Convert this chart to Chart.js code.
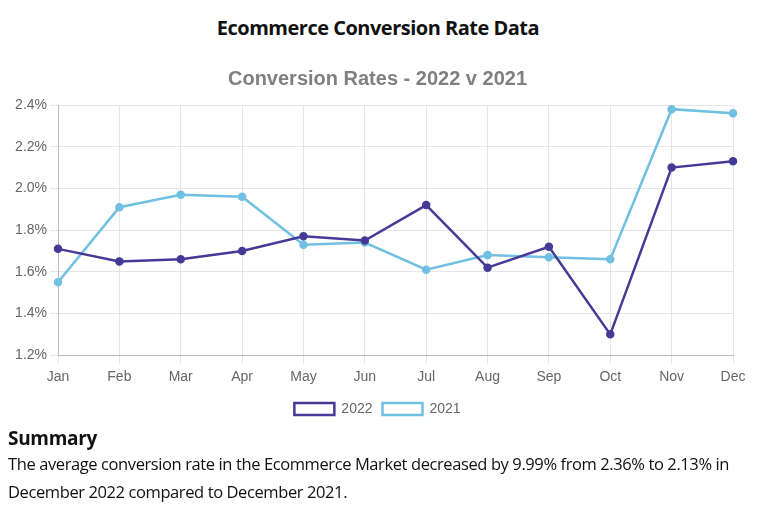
<!DOCTYPE html>
<html>
<head>
<meta charset="utf-8">
<script src="https://cdn.jsdelivr.net/npm/chart.js@4"></script>
<style>
  html, body { margin: 0; padding: 0; background: #fff; }
  body { width: 768px; height: 511px; position: relative; overflow: hidden; font-family: "Open Sans", sans-serif; color: #111; }
  h1 { position: absolute; top: 14px; left: -6px; width: 768px; margin: 0; text-align: center; font-size: 20px; font-weight: 700; letter-spacing: -0.5px; }
  #wrap { position: absolute; left: 0; top: 61px; width: 768px; height: 365px; }
  h2 { position: absolute; top: 425px; left: 8px; margin: 0; font-size: 19px; font-weight: 700; letter-spacing: -0.3px; }
  p { position: absolute; top: 450px; left: 8px; width: 760px; margin: 0; font-size: 16.5px; line-height: 28px; letter-spacing: -0.4px; }
</style>
</head>
<body>
<h1>Ecommerce Conversion Rate Data</h1>
<div id="wrap"><canvas id="chart"></canvas></div>
<h2>Summary</h2>
<p>The average conversion rate in the Ecommerce Market decreased by 9.99% from 2.36% to 2.13% in December 2022 compared to December 2021.</p>
<script>
  // ---- data ----------------------------------------------------------------
  const MONTHS = ["Jan", "Feb", "Mar", "Apr", "May", "Jun", "Jul", "Aug", "Sep", "Oct", "Nov", "Dec"];
  const RATES_2022 = [1.71, 1.65, 1.66, 1.70, 1.77, 1.75, 1.92, 1.62, 1.72, 1.30, 2.10, 2.13];
  const RATES_2021 = [1.55, 1.91, 1.97, 1.96, 1.73, 1.74, 1.61, 1.68, 1.67, 1.66, 2.38, 2.36];

  const DARK = "#463a97";
  const LIGHT = "#70c0e2";
  const TICK_FONT = { family: "Liberation Sans", size: 14 };

  function series(label, data, color) {
    return {
      label,
      data,
      borderColor: color,
      backgroundColor: "#fff",
      pointBackgroundColor: color,
      pointBorderColor: color,
      pointRadius: 3,
      borderWidth: 2.5,
      tension: 0,
    };
  }

  new Chart(document.getElementById("chart"), {
    type: "line",
    data: {
      labels: MONTHS,
      datasets: [series("2022", RATES_2022, DARK), series("2021", RATES_2021, LIGHT)],
    },
    options: {
      responsive: true,
      maintainAspectRatio: false,
      animation: false,
      layout: { padding: { left: 0, right: 13 } },
      plugins: {
        title: {
          display: true,
          text: "Conversion Rates - 2022 v 2021",
          color: "#808080",
          font: { family: "Liberation Sans", size: 20, weight: "bold" },
          padding: { top: 6, bottom: 14 },
        },
        legend: {
          position: "bottom",
          labels: {
            color: "#666",
            font: { family: "Liberation Sans", size: 14 },
            boxWidth: 40,
            boxHeight: 12,
            padding: 10,
            generateLabels: (chart) =>
              chart.data.datasets.map((d, i) => ({
                text: d.label,
                fillStyle: "#fff",
                strokeStyle: d.borderColor,
                lineWidth: 2.5,
                datasetIndex: i,
                fontColor: "#666",
              })),
          },
        },
      },
      scales: {
        x: {
          grid: { color: "#e5e5e5" },
          border: { color: "#bbb" },
          ticks: { color: "#666", font: TICK_FONT, padding: 6 },
        },
        y: {
          min: 1.2,
          max: 2.4,
          afterFit: (scale) => { scale.width = 58; },
          grid: { color: "#e5e5e5" },
          border: { color: "#bbb" },
          ticks: {
            stepSize: 0.2,
            color: "#666",
            font: TICK_FONT,
            callback: (v) => v.toFixed(1) + "%",
          },
        },
        // empty right-hand spacer so the plot ends where the reference does
        spacer: {
          type: "linear",
          position: "right",
          afterFit: (scale) => { scale.width = 22; },
          grid: { display: false },
          border: { display: false },
          ticks: { display: false },
        },
      },
    },
  });
</script>
</body>
</html>
